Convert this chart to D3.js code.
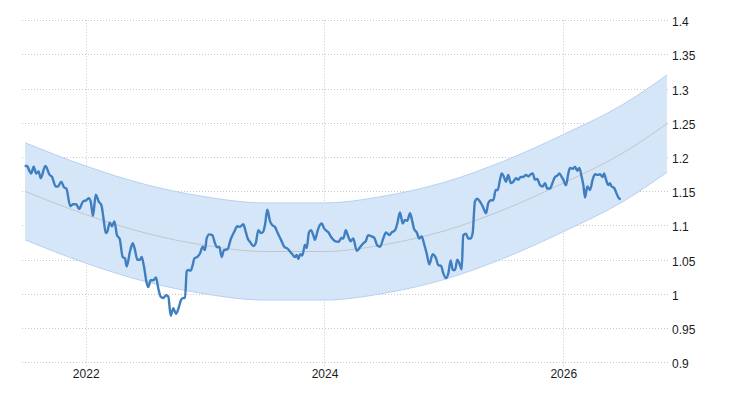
<!DOCTYPE html>
<html>
<head>
<meta charset="utf-8">
<script src="https://cdn.jsdelivr.net/npm/d3@7"></script>
<style>
	html, body { margin: 0; padding: 0; background: #fff; }
	#app { width: 730px; height: 400px; }
	.tick text { font-family: 'Liberation Sans', Arial, sans-serif; font-size: 12px; fill: #1a1a1a; }
</style>
</head>
<body>
<div id="app"></div>
<script>
// price series, x in decimal years
const years = [
	2021.489, 2021.508, 2021.531, 2021.544, 2021.564, 2021.586, 2021.606, 2021.623, 2021.662, 2021.698,
	2021.718, 2021.749, 2021.768, 2021.796, 2021.818, 2021.838, 2021.871, 2021.894, 2021.921, 2021.944,
	2021.977, 2022.005, 2022.025, 2022.042, 2022.061, 2022.084, 2022.109, 2022.131, 2022.151, 2022.168,
	2022.181, 2022.201, 2022.220, 2022.240, 2022.262, 2022.285, 2022.310, 2022.329, 2022.343, 2022.371,
	2022.394, 2022.413, 2022.432, 2022.455, 2022.469, 2022.488, 2022.511, 2022.524, 2022.544, 2022.566,
	2022.589, 2022.608, 2022.628, 2022.650, 2022.673, 2022.692, 2022.712, 2022.734, 2022.756, 2022.781,
	2022.798, 2022.817, 2022.832, 2022.846, 2022.859, 2022.879, 2022.896, 2022.910, 2022.935, 2022.957,
	2022.980, 2022.999, 2023.013, 2023.035, 2023.060, 2023.083, 2023.102, 2023.119, 2023.139, 2023.158,
	2023.186, 2023.217, 2023.245, 2023.270, 2023.292, 2023.320, 2023.340, 2023.357, 2023.376, 2023.404,
	2023.424, 2023.446, 2023.468, 2023.487, 2023.502, 2023.521, 2023.544, 2023.566, 2023.585, 2023.608,
	2023.636, 2023.663, 2023.692, 2023.711, 2023.730, 2023.753, 2023.767, 2023.781, 2023.797, 2023.814,
	2023.837, 2023.851, 2023.870, 2023.887, 2023.906, 2023.920, 2023.943, 2023.962, 2023.977, 2023.996,
	2024.032, 2024.060, 2024.088, 2024.116, 2024.144, 2024.158, 2024.178, 2024.199, 2024.219, 2024.241,
	2024.270, 2024.297, 2024.325, 2024.345, 2024.367, 2024.395, 2024.417, 2024.442, 2024.465, 2024.492,
	2024.515, 2024.543, 2024.563, 2024.590, 2024.610, 2024.632, 2024.655, 2024.674, 2024.693, 2024.716,
	2024.733, 2024.750, 2024.772, 2024.794, 2024.814, 2024.833, 2024.856, 2024.878, 2024.906, 2024.934,
	2024.953, 2024.976, 2024.995, 2025.018, 2025.037, 2025.057, 2025.074, 2025.093, 2025.112, 2025.129,
	2025.149, 2025.162, 2025.185, 2025.204, 2025.224, 2025.241, 2025.260, 2025.280, 2025.302, 2025.325,
	2025.353, 2025.372, 2025.395, 2025.414, 2025.434, 2025.451, 2025.470, 2025.484, 2025.503, 2025.520,
	2025.539, 2025.560, 2025.581, 2025.604, 2025.623, 2025.643, 2025.665, 2025.688, 2025.707, 2025.727,
	2025.744, 2025.763, 2025.782, 2025.805, 2025.828, 2025.847, 2025.866, 2025.889, 2025.911, 2025.931,
	2025.950, 2025.967, 2025.987, 2026.000, 2026.023, 2026.042, 2026.056, 2026.079, 2026.098, 2026.117,
	2026.134, 2026.154, 2026.168, 2026.182, 2026.201, 2026.224, 2026.246, 2026.266, 2026.288, 2026.307,
	2026.330, 2026.341, 2026.358, 2026.377, 2026.391, 2026.405, 2026.425, 2026.441, 2026.461, 2026.481,
];
const rates = [
	1.187, 1.187, 1.179, 1.176, 1.186, 1.176, 1.179, 1.169, 1.187, 1.174,
	1.171, 1.157, 1.157, 1.164, 1.156, 1.154, 1.128, 1.131, 1.131, 1.124,
	1.135, 1.137, 1.140, 1.135, 1.114, 1.145, 1.135, 1.130, 1.108, 1.089,
	1.091, 1.104, 1.099, 1.106, 1.086, 1.080, 1.054, 1.052, 1.040, 1.062,
	1.074, 1.064, 1.050, 1.050, 1.054, 1.040, 1.016, 1.010, 1.020, 1.020,
	1.024, 1.008, 0.996, 0.994, 0.998, 0.996, 0.968, 0.979, 0.971, 0.981,
	0.991, 0.994, 0.994, 1.033, 1.035, 1.034, 1.042, 1.052, 1.054, 1.059,
	1.069, 1.064, 1.081, 1.087, 1.086, 1.074, 1.068, 1.069, 1.054, 1.064,
	1.065, 1.081, 1.091, 1.099, 1.098, 1.102, 1.091, 1.081, 1.076, 1.070,
	1.074, 1.093, 1.089, 1.091, 1.101, 1.123, 1.106, 1.100, 1.098, 1.089,
	1.079, 1.069, 1.066, 1.062, 1.058, 1.054, 1.057, 1.051, 1.058, 1.056,
	1.072, 1.067, 1.090, 1.093, 1.086, 1.079, 1.093, 1.101, 1.103, 1.096,
	1.090, 1.082, 1.077, 1.076, 1.082, 1.081, 1.093, 1.084, 1.077, 1.081,
	1.063, 1.068, 1.074, 1.077, 1.086, 1.084, 1.082, 1.071, 1.069, 1.081,
	1.090, 1.086, 1.090, 1.093, 1.103, 1.119, 1.103, 1.108, 1.107, 1.118,
	1.108, 1.095, 1.090, 1.081, 1.084, 1.074, 1.059, 1.043, 1.058, 1.052,
	1.042, 1.041, 1.030, 1.023, 1.030, 1.049, 1.035, 1.035, 1.050, 1.045,
	1.036, 1.086, 1.088, 1.081, 1.081, 1.089, 1.135, 1.139, 1.135, 1.128,
	1.118, 1.133, 1.137, 1.137, 1.152, 1.152, 1.167, 1.176, 1.171, 1.164,
	1.174, 1.162, 1.164, 1.169, 1.167, 1.171, 1.171, 1.174, 1.172, 1.175,
	1.176, 1.167, 1.168, 1.159, 1.157, 1.162, 1.154, 1.154, 1.163, 1.171,
	1.173, 1.176, 1.171, 1.167, 1.159, 1.176, 1.184, 1.183, 1.186, 1.180,
	1.184, 1.171, 1.159, 1.141, 1.157, 1.152, 1.167, 1.175, 1.174, 1.175,
	1.171, 1.176, 1.167, 1.159, 1.162, 1.157, 1.155, 1.149, 1.141, 1.138,
];

// trend channel
const bandYears = [2021.492, 2022, 2022.5, 2023, 2023.5, 2024, 2024.5, 2025, 2025.5, 2026, 2026.5, 2026.869];
const bandMid = [1.150, 1.116, 1.089, 1.071, 1.062, 1.062, 1.072, 1.092, 1.123, 1.162, 1.206, 1.249];
const bandUpper = [1.221, 1.187, 1.160, 1.142, 1.133, 1.133, 1.143, 1.163, 1.194, 1.233, 1.277, 1.320];
const bandLower = [1.079, 1.045, 1.018, 1.000, 0.991, 0.991, 1.001, 1.021, 1.052, 1.091, 1.135, 1.178];

const xTicks = [2022, 2024, 2026];
const yTicks = [0.9, 0.95, 1, 1.05, 1.1, 1.15, 1.2, 1.25, 1.3, 1.35, 1.4];

const render = () => {
	const width = 730;
	const height = 400;
	const left = 22;
	const right = 668;
	const top = 20.3;
	const bottom = 362.3;

	const svg = d3.select('#app').append('svg')
		.attr('width', width)
		.attr('height', height);

	const x = d3.scaleLinear()
		.domain([2021.4665, 2026.877])
		.range([left, right]);
	const y = d3.scaleLinear()
		.domain([0.9, 1.4])
		.range([bottom, top]);

	// grid
	svg.append('g')
		.selectAll('line')
		.data(yTicks)
		.join('line')
		.attr('x1', left)
		.attr('x2', right)
		.attr('y1', (d) => Math.round(y(d)) + 0.5)
		.attr('y2', (d) => Math.round(y(d)) + 0.5)
		.attr('stroke', '#c8c8c8')
		.attr('stroke-dasharray', '1,2');

	svg.append('g')
		.selectAll('line')
		.data(xTicks)
		.join('line')
		.attr('x1', (d) => Math.round(x(d)) + 0.5)
		.attr('x2', (d) => Math.round(x(d)) + 0.5)
		.attr('y1', top)
		.attr('y2', bottom + 6)
		.attr('stroke', '#c8c8c8')
		.attr('stroke-dasharray', '1,2');

	// channel
	const band = bandYears.map((t, i) => ({ t, mid: bandMid[i], hi: bandUpper[i], lo: bandLower[i] }));
	const curve = d3.curveMonotoneX;

	svg.append('path')
		.datum(band)
		.attr('fill', '#d6e6f9')
		.attr('d', d3.area()
			.curve(curve)
			.x((d) => x(d.t))
			.y0((d) => y(d.lo))
			.y1((d) => y(d.hi)));

	['hi', 'lo'].forEach((key) => {
		svg.append('path')
			.datum(band)
			.attr('fill', 'none')
			.attr('stroke', '#b6d0f2')
			.attr('stroke-width', 1)
			.attr('d', d3.line().curve(curve).x((d) => x(d.t)).y((d) => y(d[key])));
	});

	svg.append('path')
		.datum(band)
		.attr('fill', 'none')
		.attr('stroke', '#c2c6cc')
		.attr('stroke-width', 1)
		.attr('d', d3.line().curve(curve).x((d) => x(d.t)).y((d) => y(d.mid)));

	// price line
	const points = years.map((t, i) => ({ t, v: rates[i] }));
	svg.append('path')
		.datum(points)
		.attr('fill', 'none')
		.attr('stroke', '#3f7fc0')
		.attr('stroke-width', 2.4)
		.attr('stroke-linejoin', 'round')
		.attr('d', d3.line().curve(curve).x((d) => x(d.t)).y((d) => y(d.v)));

	// axes
	const xAxis = svg.append('g')
		.attr('transform', `translate(0, ${bottom + 7})`)
		.call(d3.axisBottom(x).tickValues(xTicks).tickFormat(d3.format('d')).tickSize(0).tickPadding(0));
	xAxis.select('.domain').remove();
	xAxis.selectAll('text').attr('dy', '0.71em');

	const yAxis = svg.append('g')
		.attr('transform', `translate(${right + 4}, 1.5)`)
		.call(d3.axisRight(y).tickValues(yTicks).tickFormat((d) => String(d)).tickSize(0).tickPadding(0));
	yAxis.select('.domain').remove();
};

render();
</script>
</body>
</html>
